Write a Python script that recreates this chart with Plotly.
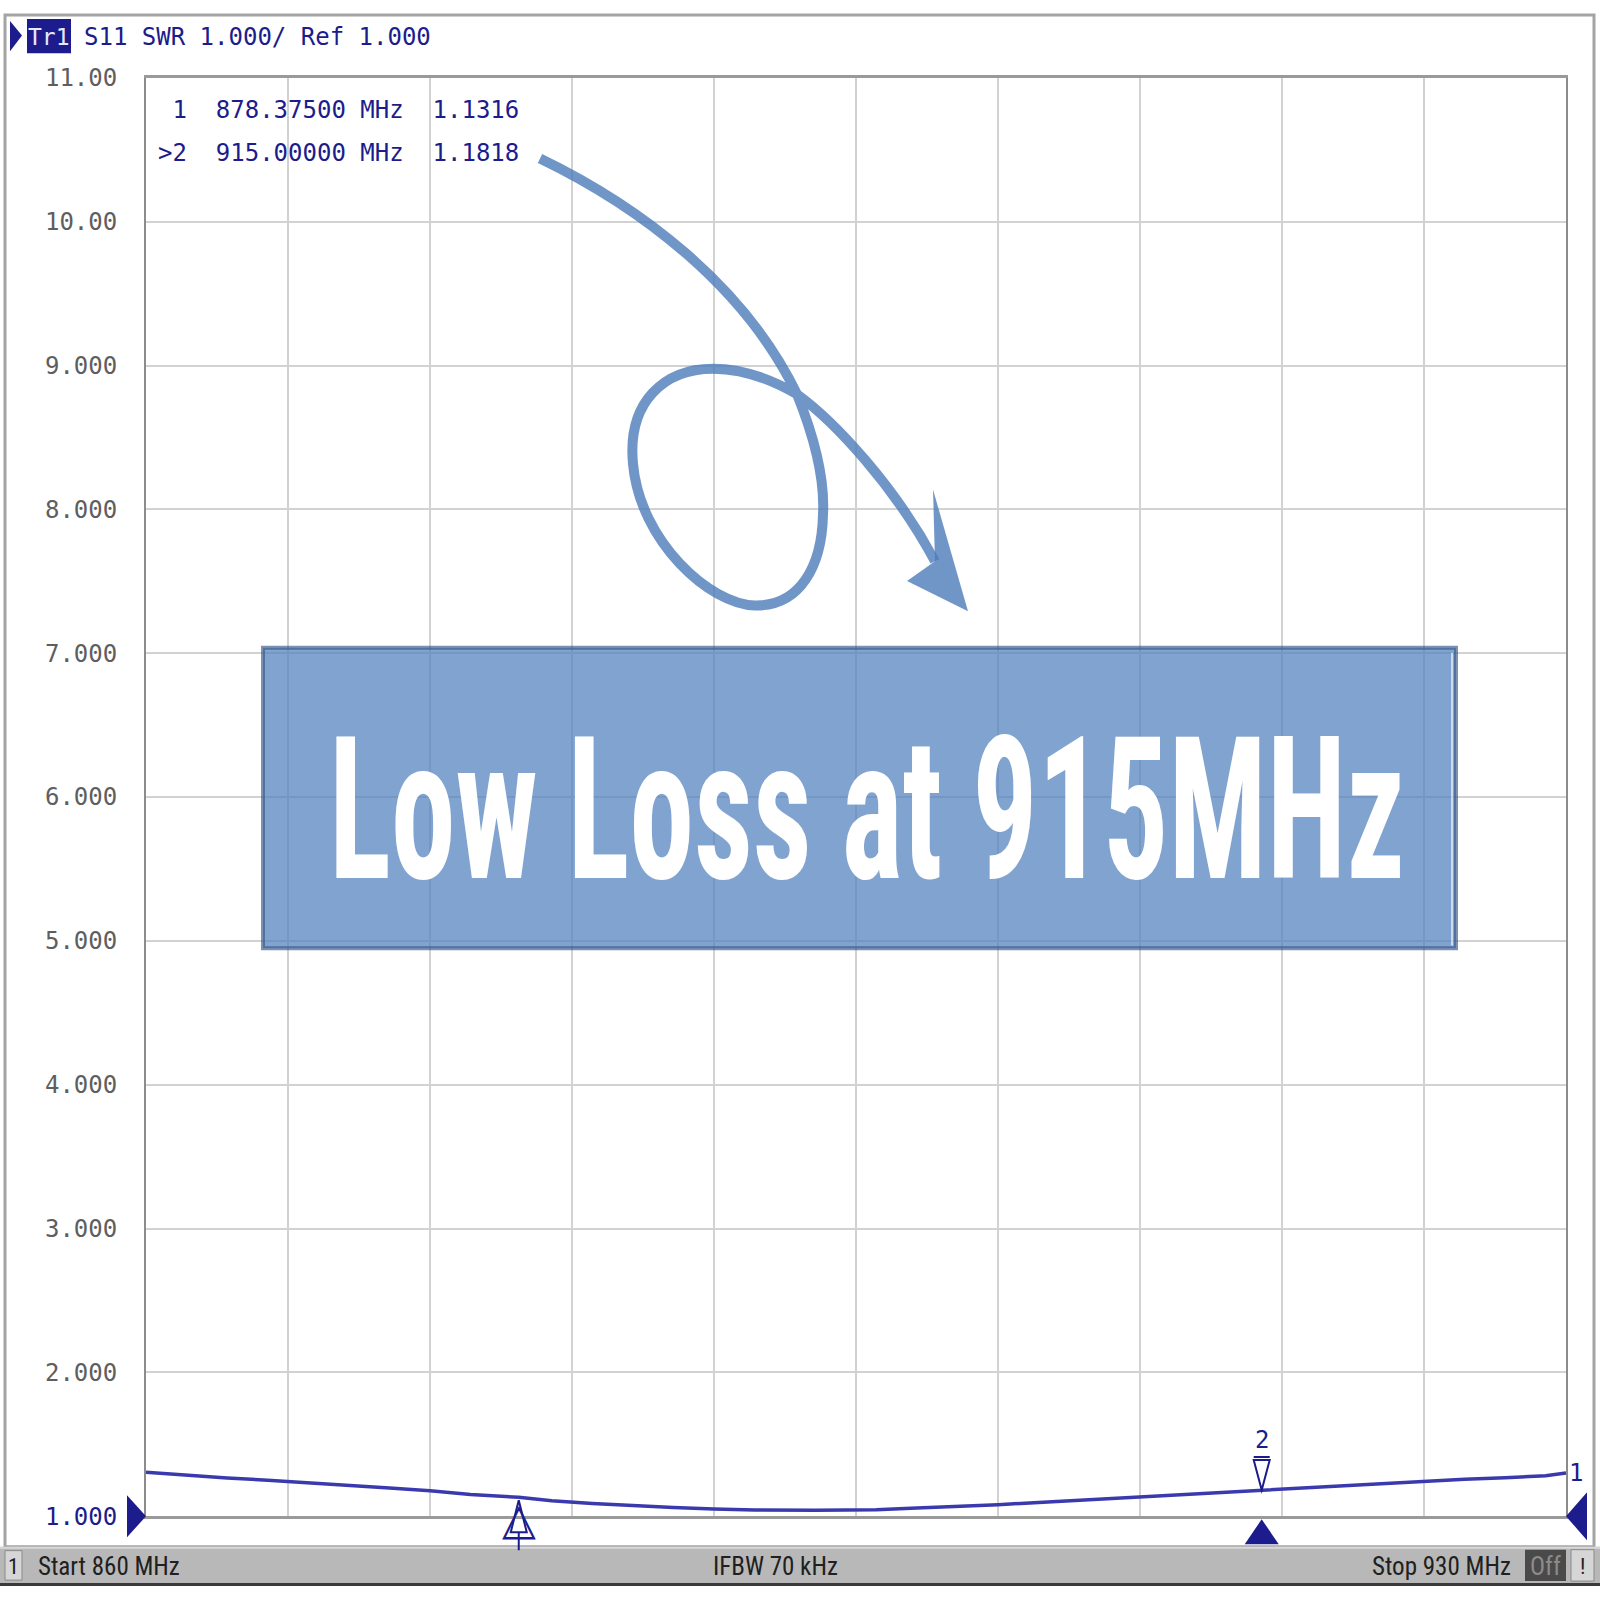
import plotly.graph_objects as go

# S11 SWR sweep
FREQ_MHZ = [860.0, 862.0, 864.0, 866.0, 868.0, 870.0, 872.0, 874.0, 876.0, 878.375,
            880.0, 882.0, 884.0, 886.0, 888.0, 890.0, 893.0, 896.0, 898.0, 900.0,
            902.0, 904.0, 906.0, 908.0, 910.0, 912.0, 913.5, 915.0, 917.0, 919.0,
            921.0, 923.0, 925.0, 927.0, 929.0, 930.0]
SWR = [1.306, 1.283, 1.266, 1.250, 1.230, 1.212, 1.196, 1.177, 1.152, 1.1316,
       1.108, 1.088, 1.072, 1.060, 1.050, 1.044, 1.042, 1.045, 1.058, 1.068,
       1.080, 1.096, 1.112, 1.128, 1.142, 1.156, 1.168, 1.1818, 1.198, 1.214,
       1.226, 1.243, 1.258, 1.268, 1.282, 1.300]

MARKER_IDS = ["1", "2"]
MARKER_FREQ_MHZ = [878.375, 915.0]
MARKER_SWR = [1.1316, 1.1818]
ACTIVE_MARKER = "2"

Y_TICKS = [1, 2, 3, 4, 5, 6, 7, 8, 9, 10, 11]
Y_TICK_TEXT = ["1.000", "2.000", "3.000", "4.000", "5.000", "6.000",
               "7.000", "8.000", "9.000", "10.00", "11.00"]
X_GRID_STEP = 7.0

START_MHZ = 860
STOP_MHZ = 930
IFBW_KHZ = 70
HEADER_TEXT = "S11 SWR 1.000/ Ref 1.000"
BANNER_TEXT = "Low Loss at 915MHz"

W = H = 1600
PLOT_L, PLOT_R, PLOT_T, PLOT_B = 146, 1566, 65, 1529

NAVY = "#1c1c8c"
TRACE = "#3a3aae"
MONO = "DejaVu Sans Mono"
STATUS_FONT = "Liberation Sans Narrow, Roboto Condensed, Liberation Sans"
BANNER_FONT = "Roboto Condensed, Roboto, Liberation Sans"
ARROW_BLUE = "rgba(76,124,186,0.8)"
BANNER_WIDTH_PX = 1076
STATUS_Y = 1580


def px(x):
    return x / W


def py(y):
    return 1 - y / H


def paper_path(cmds):
    out = []
    for cmd in cmds:
        op, pts = cmd[0], cmd[1:]
        out.append(op + " " + " ".join(f"{px(x):.5f},{py(y):.5f}" for x, y in pts))
    return " ".join(out)


fig = go.Figure()

fig.add_trace(
    go.Scatter(
        x=FREQ_MHZ,
        y=SWR,
        mode="lines",
        line={"color": TRACE, "width": 3.5},
        hoverinfo="skip",
        showlegend=False,
        cliponaxis=False,
    )
)

shapes = []
annotations = []

# outer window frame and status bar
shapes.append(dict(type="rect", xref="paper", yref="paper", x0=px(5), x1=px(1594), y0=py(1560), y1=py(1),
                   line={"color": "#a4a4a4", "width": 3}, fillcolor="white", layer="below"))
shapes.append(dict(type="rect", xref="paper", yref="paper", x0=0, x1=1, y0=py(1597), y1=py(1560),
                   line={"width": 0}, fillcolor="#b8b8b8", layer="below"))
shapes.append(dict(type="line", xref="paper", yref="paper", x0=0, x1=1, y0=py(1561), y1=py(1561),
                   line={"color": "#d8d8d8", "width": 2}, layer="below"))
shapes.append(dict(type="rect", xref="paper", yref="paper", x0=0, x1=1, y0=0, y1=py(1597),
                   line={"width": 0}, fillcolor="#3a3a3a", layer="below"))
shapes.append(dict(type="rect", xref="paper", yref="paper", x0=px(5), x1=px(22), y0=py(1594), y1=py(1564),
                   line={"color": "#8a8a8a", "width": 1}, fillcolor="#d6d6d6", layer="below"))
shapes.append(dict(type="rect", xref="paper", yref="paper", x0=px(1525), x1=px(1566), y0=py(1595), y1=py(1563),
                   line={"width": 0}, fillcolor="#4a4a4a", layer="below"))
shapes.append(dict(type="rect", xref="paper", yref="paper", x0=px(1571), x1=px(1594), y0=py(1595), y1=py(1563),
                   line={"color": "#8a8a8a", "width": 1}, fillcolor="#d6d6d6", layer="below"))

# trace header: arrow + "Tr1" tag
shapes.append(dict(type="path", xref="paper", yref="paper",
                   path=paper_path([("M", (10, 7)), ("L", (22, 22)), ("L", (10, 38))]) + " Z",
                   fillcolor=NAVY, line={"width": 0}))
shapes.append(dict(type="rect", xref="paper", yref="paper", x0=px(27), x1=px(71), y0=py(40), y1=py(5),
                   fillcolor=NAVY, line={"width": 0}))
annotations.append(dict(x=px(49), y=py(23), xref="paper", yref="paper", text="Tr1", showarrow=False,
                        font={"family": MONO, "size": 23, "color": "#e8e8ff"}, xanchor="center", yanchor="middle"))
annotations.append(dict(x=px(82), y=py(23), xref="paper", yref="paper", text=HEADER_TEXT, showarrow=False,
                        font={"family": MONO, "size": 24, "color": NAVY}, xanchor="left", yanchor="middle"))

# marker readout table
for i, (mid, f, s) in enumerate(zip(MARKER_IDS, MARKER_FREQ_MHZ, MARKER_SWR)):
    tag = (">" if mid == ACTIVE_MARKER else " ") + mid
    annotations.append(dict(x=px(156), y=py(98 + 43 * i), xref="paper", yref="paper",
                            text=f"{tag}  {f:.5f} MHz  {s:.4f}".replace(" ", "&nbsp;"),
                            showarrow=False, font={"family": MONO, "size": 24, "color": NAVY},
                            xanchor="left", yanchor="middle"))

# reference level arrows at both ends of the 1.000 line (axis-domain corners)
shapes.append(dict(type="path", xref="x domain", yref="y domain", xsizemode="pixel", ysizemode="pixel",
                   xanchor=0, yanchor=0, path="M 0,0 L -19,21 L -19,-21 Z",
                   fillcolor=NAVY, line={"width": 0}))
shapes.append(dict(type="path", xref="x domain", yref="y domain", xsizemode="pixel", ysizemode="pixel",
                   xanchor=1, yanchor=0, path="M 0,0 L 21,24 L 21,-24 Z",
                   fillcolor=NAVY, line={"width": 0}))

# marker glyphs
for mid, f, s in zip(MARKER_IDS, MARKER_FREQ_MHZ, MARKER_SWR):
    if mid == ACTIVE_MARKER:
        shapes.append(dict(type="path", xref="x", yref="y", xsizemode="pixel", ysizemode="pixel",
                           xanchor=f, yanchor=s, path="M 0,0 L -8,30 L 8,30 Z M -8,33 L 8,33",
                           line={"color": NAVY, "width": 2}, fillcolor="white"))
        annotations.append(dict(x=f, y=s, text=mid, showarrow=False, yshift=50, xanchor="center",
                                yanchor="middle", font={"family": MONO, "size": 24, "color": NAVY}))
        # stimulus marker under the axis
        shapes.append(dict(type="path", xref="x", yref="y domain", xsizemode="pixel", ysizemode="pixel",
                           xanchor=f, yanchor=0, path="M 0,-3 L -17,-28 L 17,-28 Z",
                           fillcolor=NAVY, line={"width": 0}))
    else:
        annotations.append(dict(x=f, y=s, text="\u25b3", showarrow=False, xanchor="center", yanchor="top",
                                yshift=6, font={"family": "DejaVu Sans", "size": 44, "color": NAVY}))
        shapes.append(dict(type="path", xref="x", yref="y domain", xsizemode="pixel", ysizemode="pixel",
                           xanchor=f, yanchor=0, path="M 0,16 L -8,-16 L 8,-16 Z M 0,-16 L 0,-34",
                           line={"color": NAVY, "width": 2}, fillcolor="rgba(0,0,0,0)"))

# trace number at the right end
annotations.append(dict(x=FREQ_MHZ[-1], y=SWR[-1], text="1", showarrow=False, xanchor="left", xshift=1,
                        yanchor="middle", font={"family": MONO, "size": 24, "color": NAVY}))

# status bar texts
annotations.append(dict(x=px(13), y=py(STATUS_Y), xref="paper", yref="paper", text="1", showarrow=False,
                        font={"family": STATUS_FONT, "size": 22, "color": "#202020"}, xanchor="center", yanchor="middle"))
annotations.append(dict(x=px(36), y=py(STATUS_Y), xref="paper", yref="paper", text=f"Start {START_MHZ} MHz",
                        showarrow=False, font={"family": STATUS_FONT, "size": 25, "color": "#202020"},
                        xanchor="left", yanchor="middle"))
annotations.append(dict(x=px(775), y=py(STATUS_Y), xref="paper", yref="paper", text=f"IFBW {IFBW_KHZ} kHz",
                        showarrow=False, font={"family": STATUS_FONT, "size": 25, "color": "#202020"},
                        xanchor="center", yanchor="middle"))
annotations.append(dict(x=px(1513), y=py(STATUS_Y), xref="paper", yref="paper", text=f"Stop {STOP_MHZ} MHz",
                        showarrow=False, font={"family": STATUS_FONT, "size": 25, "color": "#202020"},
                        xanchor="right", yanchor="middle"))
annotations.append(dict(x=px(1545), y=py(STATUS_Y), xref="paper", yref="paper", text="Off", showarrow=False,
                        font={"family": STATUS_FONT, "size": 25, "color": "#8c8c8c"}, xanchor="center", yanchor="middle"))
annotations.append(dict(x=px(1582), y=py(STATUS_Y), xref="paper", yref="paper", text="!", showarrow=False,
                        font={"family": STATUS_FONT, "size": 22, "color": "#202020"}, xanchor="center", yanchor="middle"))

# promo banner over the grid
shapes.append(dict(type="rect", xref="paper", yref="paper", x0=px(263), x1=px(1456), y0=py(951), y1=py(645),
                   fillcolor="rgba(79,129,189,0.72)", line={"color": "rgba(55,88,135,0.65)", "width": 4}))
shapes.append(dict(type="line", xref="paper", yref="paper", x0=px(1452), x1=px(1452), y0=py(948), y1=py(650),
                   line={"color": "rgba(255,255,255,0.6)", "width": 2}))
annotations.append(dict(x=px(867), y=py(810), xref="paper", yref="paper",
                        text=f"<b>{BANNER_TEXT}</b>",
                        showarrow=False, xanchor="center", yanchor="middle",
                        font={"family": BANNER_FONT, "size": 198, "color": "white", "weight": 900}))

# looping arrow
arrow_path = paper_path([
    ("M", (540, 147)),
    ("C", (640, 196), (745, 277), (797, 387)),
    ("C", (812, 425), (825, 471), (823, 509)),
    ("C", (822, 562), (800, 603), (755, 602)),
    ("C", (710, 601), (640, 537), (633, 458)),
    ("C", (627, 394), (665, 361), (713, 361)),
    ("C", (745, 361), (775, 374), (797, 387)),
    ("C", (835, 415), (895, 481), (935, 557)),
])
shapes.append(dict(type="path", xref="paper", yref="paper", path=arrow_path,
                   line={"color": ARROW_BLUE, "width": 10}, fillcolor="rgba(0,0,0,0)"))
shapes.append(dict(type="path", xref="paper", yref="paper",
                   path=paper_path([("M", (933, 484)), ("L", (968, 608)), ("L", (907, 577)), ("L", (935, 557))]) + " Z",
                   fillcolor=ARROW_BLUE, line={"width": 0}))

fig.update_layout(
    width=W,
    height=H,
    margin={"l": 0, "r": 0, "t": 0, "b": 0},
    paper_bgcolor="white",
    plot_bgcolor="white",
    showlegend=False,
    shapes=shapes,
    annotations=annotations,
    xaxis={
        "domain": [px(PLOT_L), px(PLOT_R)],
        "range": [START_MHZ, STOP_MHZ],
        "tick0": START_MHZ,
        "dtick": X_GRID_STEP,
        "showticklabels": False,
        "ticks": "",
        "showgrid": True,
        "gridcolor": "#d2d2d2",
        "gridwidth": 2,
        "zeroline": False,
        "showline": True,
        "linecolor": "#9a9a9a",
        "linewidth": 3,
        "mirror": True,
    },
    yaxis={
        "domain": [py(PLOT_B), py(PLOT_T)],
        "range": [Y_TICKS[0], Y_TICKS[-1]],
        "tickvals": Y_TICKS,
        "ticktext": [f"<span style='color:{NAVY}'>{t}</span>" if i == 0 else t
                     for i, t in enumerate(Y_TICK_TEXT)],
        "tickfont": {"family": MONO, "size": 24, "color": "#5e5e5e"},
        "ticks": "",
        "ticklabelstandoff": 22,
        "showgrid": True,
        "gridcolor": "#d2d2d2",
        "gridwidth": 2,
        "zeroline": False,
        "showline": True,
        "linecolor": "#8c8c8c",
        "linewidth": 2,
        "mirror": True,
    },
)

# pin the graph to the page corner, and squeeze the banner title horizontally
# (no condensed heavy face is installed)
post_js = """
document.body.style.margin = '0';
var gd = document.getElementById('{plot_id}');
gd.style.position = 'absolute';
gd.style.left = '0px';
gd.style.top = '0px';
gd.querySelectorAll('text.annotation-text').forEach(function (t) {
    if (t.textContent.indexOf('%s') !== 0) return;
    var w = t.getBBox().width;
    t.style.transformBox = 'fill-box';
    t.style.transformOrigin = 'center';
    t.style.transform = 'scaleX(' + (%d / w) + ')';
});
""" % (BANNER_TEXT, BANNER_WIDTH_PX)

fig.write_html("out.html", post_script=post_js, config={"displayModeBar": False})
